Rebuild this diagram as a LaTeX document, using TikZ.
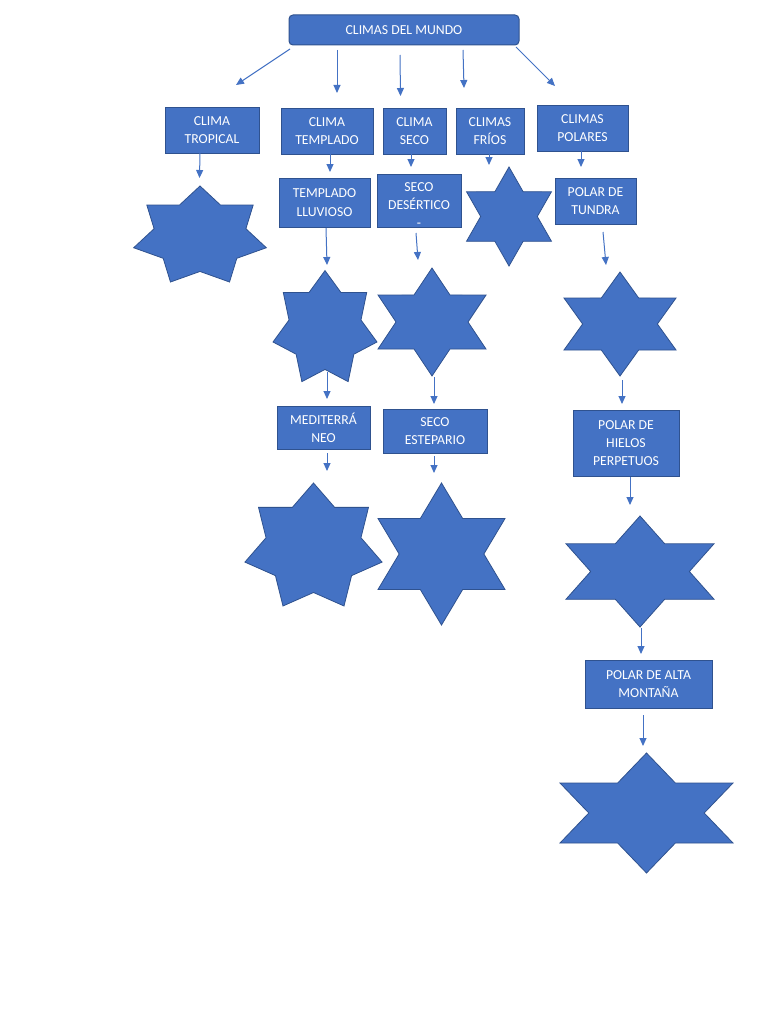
\documentclass[tikz,border=0pt]{standalone}
\usepackage{fontspec}
\setmainfont{Carlito}
\usetikzlibrary{shapes.geometric,arrows.meta}
\definecolor{boxfill}{HTML}{4472C4}
\definecolor{boxborder}{HTML}{2F528F}
\definecolor{arrcol}{HTML}{4472C4}
\newcommand\bxfont{\fontsize{10.3pt}{13.7pt}\selectfont}
\begin{document}
\begin{tikzpicture}[x=0.75pt,y=-0.75pt,
  box/.style={rectangle, draw=boxborder, fill=boxfill, line width=0.75pt, text=white,
    font=\bxfont, align=center, inner sep=0pt, outer sep=0pt},
  boxtext/.style={text=white, font=\bxfont, align=center, inner sep=0pt},
  arr/.style={draw=arrcol, line width=0.75pt, -{Triangle[length=6pt,width=5.25pt]}},
  sevenstar/.style={star, star points=7, star point ratio=1.445, fill=boxfill,
    draw=boxborder, line width=0.6pt, inner sep=0pt, outer sep=0pt},
  sixstar/.style={star, star points=6, star point ratio=1.732, fill=boxfill,
    draw=boxborder, line width=0.6pt, inner sep=0pt, outer sep=0pt}]
\useasboundingbox[fill=white] (0,0) rectangle (768,1024);

% boxes
\node[box, rounded corners=3pt, minimum width=172.5pt, minimum height=22.5pt] (title) at (404,30) {CLIMAS DEL MUNDO};
\node[box, minimum width=70.5pt, minimum height=34.5pt] (trop) at (212,130) {CLIMA\\TROPICAL};
\node[box, minimum width=69pt, minimum height=34.5pt] (temp) at (327,131) {CLIMA\\TEMPLADO};
\node[box, minimum width=47.25pt, minimum height=34.5pt] (seco) at (414.5,131) {CLIMA\\SECO};
\node[box, minimum width=51pt, minimum height=34.5pt] (frios) at (490,131) {CLIMAS\\FRÍOS};
\node[box, minimum width=68.25pt, minimum height=34.5pt] (polares) at (582.5,128) {CLIMAS\\POLARES};
\node[box, minimum width=68.25pt, minimum height=36.75pt] (lluv) at (324.5,202.5) {TEMPLADO\\LLUVIOSO};
\node[box, minimum width=63pt, minimum height=39.75pt] (desert) at (419,200.5) {};
\node[boxtext] (deserttext) at (419,205) {SECO\\DESÉRTICO\\-};
\node[box, minimum width=60.75pt, minimum height=34.5pt] (tundra) at (595.5,201) {POLAR DE\\TUNDRA};
\node[box, minimum width=69.75pt, minimum height=32.25pt] (medit) at (323.5,427.5) {MEDITERRÁ\\NEO};
\node[box, minimum width=78pt, minimum height=33pt] (estep) at (435,431) {SECO\\ESTEPARIO};
\node[box, minimum width=79.5pt, minimum height=49.5pt] (hielos) at (626,443) {POLAR DE\\HIELOS\\PERPETUOS};
\node[box, minimum width=95.25pt, minimum height=36pt] (montana) at (648.5,684) {POLAR DE ALTA\\MONTAÑA};

% stars
\node[sevenstar, minimum size=75.75pt, xscale=1.347] (st1) at (200,236.5) {};
\node[sixstar, minimum size=74.25pt, xscale=0.99] (st2) at (509,216.5) {};
\node[sevenstar, minimum size=87.6pt, xscale=0.913] (st3) at (325,329) {};
\node[sixstar, minimum size=81pt, xscale=1.155] (st4) at (432,322) {};
\node[sixstar, minimum size=78pt, xscale=1.244] (st5) at (620,324) {};
\node[sevenstar, minimum size=97.05pt, xscale=1.087] (st6) at (313.5,547.7) {};
\node[sixstar, minimum size=106.5pt, xscale=1.033] (st7) at (441.5,554) {};
\node[sixstar, minimum size=83.25pt, xscale=1.54] (st8) at (640,571.5) {};
\node[sixstar, minimum size=90pt, xscale=1.665] (st9) at (646.5,813) {};

% arrow end points
\coordinate (a1s) at (290,49);  \coordinate (a1e) at (236,85);
\coordinate (a2s) at (337,50);  \coordinate (a2e) at (337,93);
\coordinate (a3s) at (400,55);  \coordinate (a3e) at (400.5,96);
\coordinate (a4s) at (463,50);  \coordinate (a4e) at (464,88);
\coordinate (a5s) at (516,47);  \coordinate (a5e) at (555,86);
\coordinate (b1s) at (200,153); \coordinate (b1e) at (199.5,178);
\coordinate (b2s) at (330,154); \coordinate (b2e) at (330,172);
\coordinate (b3s) at (411,154); \coordinate (b3e) at (411,167);
\coordinate (b4s) at (489,154); \coordinate (b4e) at (489,165);
\coordinate (b5s) at (581,151); \coordinate (b5e) at (581,167);
\coordinate (c1s) at (326,228); \coordinate (c1e) at (327,265);
\coordinate (c2s) at (416,233); \coordinate (c2e) at (418,260);
\coordinate (c3s) at (603,232); \coordinate (c3e) at (606,265);
\coordinate (d1s) at (327,372); \coordinate (d1e) at (327,399);
\coordinate (d2s) at (434,377); \coordinate (d2e) at (434,404);
\coordinate (d3s) at (622,380); \coordinate (d3e) at (622,404);
\coordinate (e1s) at (327,453); \coordinate (e1e) at (327,471);
\coordinate (e2s) at (434,456); \coordinate (e2e) at (434,473);
\coordinate (e3s) at (630,477); \coordinate (e3e) at (630,505);
\coordinate (f1s) at (641,628); \coordinate (f1e) at (641,654);
\coordinate (g1s) at (643,715); \coordinate (g1e) at (643,746);

\foreach \n in {a1,a2,a3,a4,a5,b1,b2,b3,b4,b5,c1,c2,c3,d1,d2,d3,e1,e2,e3,f1,g1}
  \draw[arr] (\n s) -- (\n e);
\end{tikzpicture}
\end{document}
